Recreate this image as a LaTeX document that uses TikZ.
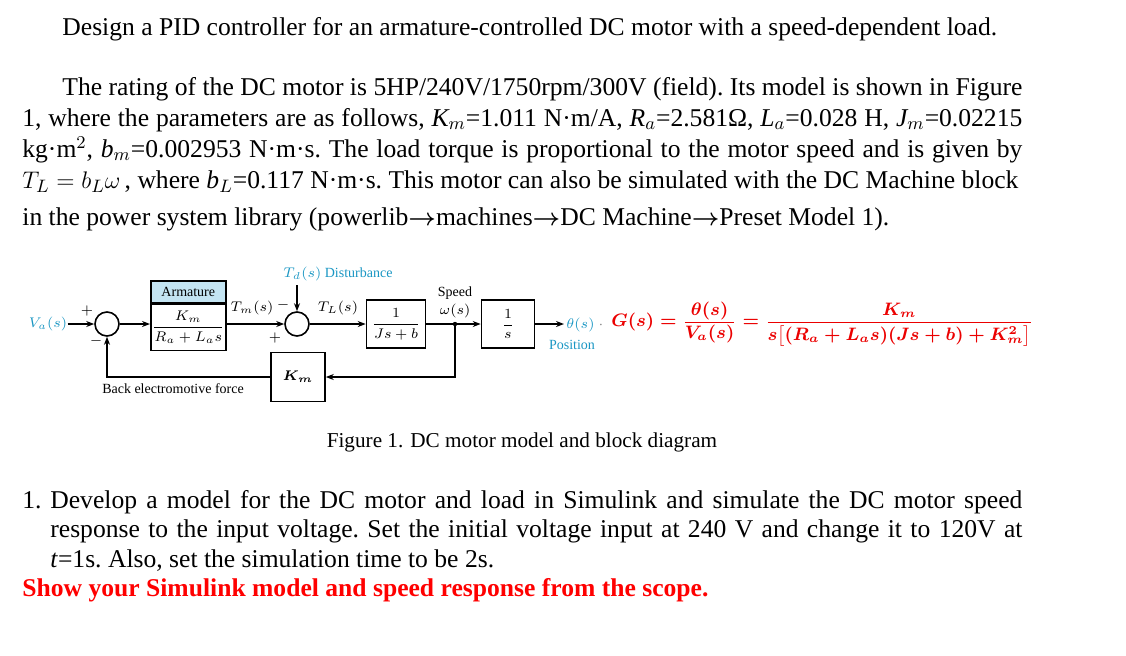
\documentclass[tikz,border=0pt]{standalone}
\usepackage{amsmath,amssymb}
\usepackage{fontspec}
\setmainfont{Liberation Serif}
\usetikzlibrary{arrows.meta,positioning}
\definecolor{lblcyan}{RGB}{25,150,195}
\definecolor{hdrblue}{RGB}{195,228,242}
\definecolor{eqred}{RGB}{235,0,0}
\newcommand{\tfeq}{$G(s)=\dfrac{\theta(s)}{V_a(s)}=\dfrac{K_m}{s\bigl[(R_a+L_as)(Js+b)+K_m^2\bigr]}$}
\tikzset{
  blk/.style={draw, thick, rectangle, inner sep=0pt},
  sumc/.style={draw, thick, circle, minimum size=12pt, inner sep=0pt},
  sig/.style={thick, -{Stealth[length=4pt]}},
  lbl/.style={font=\fontsize{7}{8}\selectfont, inner sep=0pt},
  txt/.style={font=\fontsize{12.8}{15.5}\selectfont\frenchspacing, inner sep=0pt, align=justify}
}
\begin{document}
\begin{tikzpicture}[x=0.5pt, y=-0.5pt]
  \useasboundingbox (0,0) rectangle (1126,655);

  % --- Text above the figure ---
  \node[txt, anchor=base west] (title) at (62,35)
    {Design a PID controller for an armature-controlled DC motor with a speed-dependent load.};
  \node[txt, anchor=base west, text width=500pt] (para) at (22,95)
    {\parfillskip=0pt\hspace*{20pt}The rating of the DC motor is 5HP/240V/1750rpm/300V (field). Its model is shown in Figure\linebreak
    1, where the parameters are as follows, \textit{K$_m$}=1.011 N·m/A, \textit{R$_a$}=2.581Ω, \textit{L$_a$}=0.028 H, \textit{J$_m$}=0.02215\linebreak
    kg·m$^2$, \textit{b$_m$}=0.002953 N·m·s. The load torque is proportional to the motor speed and is given by\linebreak
    $T_L = b_L\omega$\,, where \textit{b$_L$}=0.117 N·m·s. This motor can also be simulated with the DC Machine block};
  \node[txt, anchor=base west] (para2) at (22,225)
    {in the power system library (powerlib$\boldsymbol{\rightarrow}$machines$\boldsymbol{\rightarrow}$DC Machine$\boldsymbol{\rightarrow}$Preset Model 1).};

  % --- Block diagram ---
  \node[lbl, text=lblcyan] (va) at (48,324) {$V_a(s)$};
  \node[sumc] (s1) at (107,324) {};
  \node[blk, fill=hdrblue, minimum width=37.5pt, minimum height=11pt, anchor=north west, lbl] (hdr) at (150,280) {Armature};
  \node[blk, minimum width=37.5pt, minimum height=23pt, below=0pt of hdr, lbl] (arm) {$\dfrac{K_m}{R_a+L_as}$};
  \node[sumc] (s2) at (297,324) {};
  \node[blk, minimum width=29.5pt, minimum height=24pt, lbl] (plant) at (396,324) {$\dfrac{1}{Js+b}$};
  \node[blk, minimum width=26.5pt, minimum height=24pt, lbl] (integ) at (508,324) {$\dfrac{1}{s}$};
  \node[blk, minimum width=27pt, minimum height=24.5pt, lbl] (km) at (298,377) {$\boldsymbol{K_m}$};
  \coordinate (tap) at (455,324);
  \coordinate (dist) at (297,285);
  \coordinate (out) at (564,324);

  \draw[sig] (va) -- (s1);
  \draw[sig] (s1) -- (hdr.west |- s1);
  \draw[sig] (arm.east |- s2) -- (s2);
  \draw[sig] (dist) -- (s2);
  \draw[sig] (s2) -- (plant);
  \draw[sig] (plant) -- (integ);
  \draw[sig] (integ) -- (out);
  \fill (tap) circle (2.2);
  \draw[sig] (tap) |- (km);
  \draw[sig] (km) -| (s1);

  \node[lbl] (p1) at (87,311) {$+$};
  \node[lbl] (m1) at (96,341) {$-$};
  \node[lbl] (m2) at (283,305) {$-$};
  \node[lbl] (p2) at (275,338) {$+$};
  \node[lbl] (tm) at (252,308) {$T_m(s)$};
  \node[lbl] (tl) at (338,308) {$T_L(s)$};
  \node[lbl, text=lblcyan] (td) at (338,274) {$T_d(s)$ Disturbance};
  \node[lbl, align=center] (spd) at (455,302) {Speed\\[1pt] $\omega(s)$};
  \node[lbl, text=lblcyan, anchor=west] (th) at (566,325) {$\theta(s)$};
  \node[lbl, text=lblcyan] (pos) at (572,345) {Position};
  \node[lbl] (bemf) at (173,389) {Back electromotive force};
  \node[lbl, text=gray] (dot) at (601,325) {$\cdot$};

  % --- Transfer function ---
  \node[inner sep=0pt, anchor=west, text=eqred, font=\fontsize{8.6}{10}\selectfont\boldmath] (tf) at (611,324) {\tfeq};

  \node[txt, font=\fontsize{10.6}{13}\selectfont] (cap) at (522,442) {Figure 1. DC motor model and block diagram};

  % --- Task ---
  \node[txt, anchor=base west] (n1) at (22,508) {1.};
  \node[txt, anchor=base west, text width=486pt, font=\fontsize{12.8}{14.75}\selectfont\frenchspacing] (task) at (50,508)
    {Develop a model for the DC motor and load in Simulink and simulate the DC motor speed\linebreak
    response to the input voltage. Set the initial voltage input at 240 V and change it to 120V at\linebreak
    \textit{t}=1s. Also, set the simulation time to be 2s.};
  \node[txt, anchor=base west, text=red, font=\fontsize{12.8}{14}\selectfont\bfseries] (show) at (22,596)
    {Show your Simulink model and speed response from the scope.};
\end{tikzpicture}
\end{document}
